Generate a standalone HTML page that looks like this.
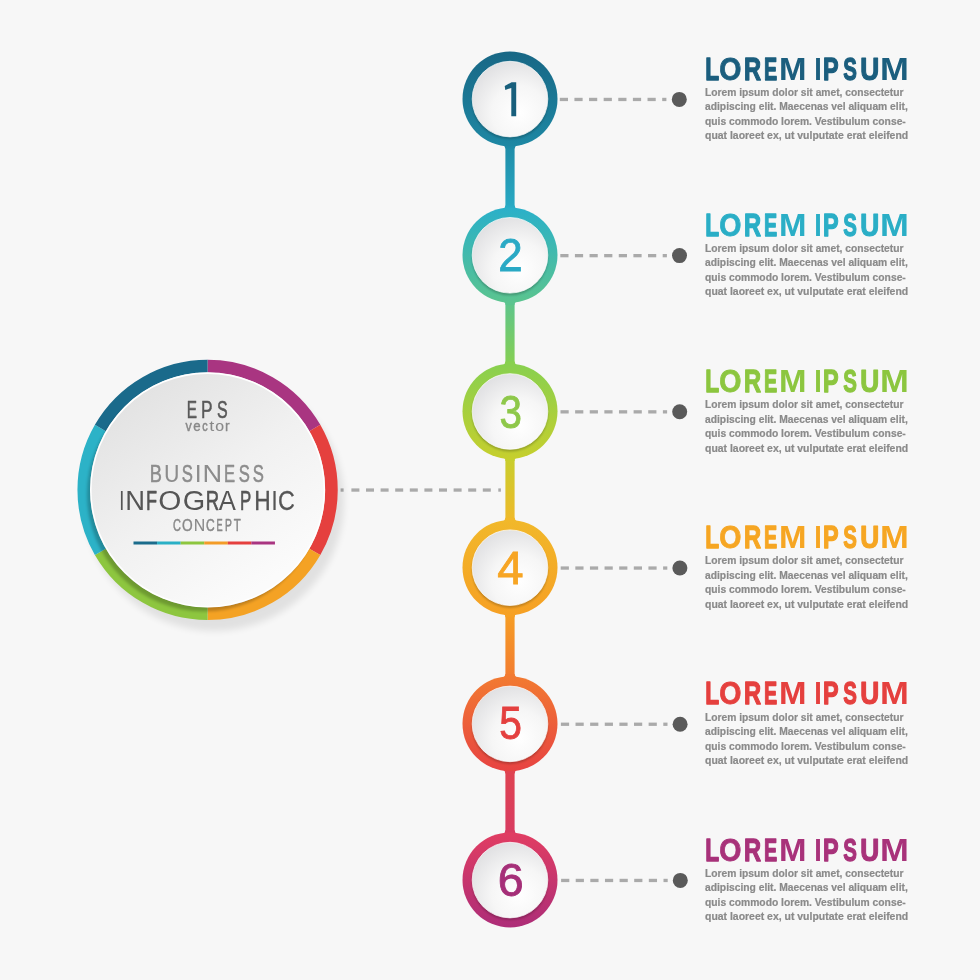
<!DOCTYPE html>
<html><head><meta charset="utf-8"><style>
html,body{margin:0;padding:0;background:#f7f7f7;}
svg{display:block;}
text{font-family:"Liberation Sans", sans-serif;}
</style></head><body>
<svg width="980" height="980" viewBox="0 0 980 980">
<defs>
<radialGradient id="disc" cx="0.62" cy="0.68" r="0.72">
<stop offset="0" stop-color="#ffffff"/><stop offset="0.5" stop-color="#f6f6f6"/><stop offset="1" stop-color="#e0e0e2"/></radialGradient>
<filter id="ish" x="-20%" y="-20%" width="140%" height="140%"><feGaussianBlur stdDeviation="1.3"/></filter>
<filter id="bshadow" x="-30%" y="-30%" width="160%" height="160%"><feGaussianBlur stdDeviation="3.5"/></filter>
<linearGradient id="lg0" x1="0" y1="142.90" x2="0" y2="211.10" gradientUnits="userSpaceOnUse"><stop offset="0" stop-color="#1f8ba7"/><stop offset="1" stop-color="#29abc5"/></linearGradient>
<linearGradient id="lg1" x1="0" y1="299.10" x2="0" y2="367.30" gradientUnits="userSpaceOnUse"><stop offset="0" stop-color="#5bc48f"/><stop offset="1" stop-color="#88d04f"/></linearGradient>
<linearGradient id="lg2" x1="0" y1="455.30" x2="0" y2="523.50" gradientUnits="userSpaceOnUse"><stop offset="0" stop-color="#c6cf2d"/><stop offset="1" stop-color="#f1b82a"/></linearGradient>
<linearGradient id="lg3" x1="0" y1="611.50" x2="0" y2="679.70" gradientUnits="userSpaceOnUse"><stop offset="0" stop-color="#f6a024"/><stop offset="1" stop-color="#f27a31"/></linearGradient>
<linearGradient id="lg4" x1="0" y1="767.70" x2="0" y2="835.90" gradientUnits="userSpaceOnUse"><stop offset="0" stop-color="#df4350"/><stop offset="1" stop-color="#d83c62"/></linearGradient>
<linearGradient id="rg0" x1="0" y1="51.40" x2="0" y2="146.40" gradientUnits="userSpaceOnUse"><stop offset="0" stop-color="#186785"/><stop offset="1" stop-color="#1e88a4"/></linearGradient>
<linearGradient id="rg1" x1="0" y1="207.60" x2="0" y2="302.60" gradientUnits="userSpaceOnUse"><stop offset="0" stop-color="#2ab0c9"/><stop offset="1" stop-color="#5bc48f"/></linearGradient>
<linearGradient id="rg2" x1="0" y1="363.80" x2="0" y2="458.80" gradientUnits="userSpaceOnUse"><stop offset="0" stop-color="#88d04f"/><stop offset="1" stop-color="#c6cf2d"/></linearGradient>
<linearGradient id="rg3" x1="0" y1="520.00" x2="0" y2="615.00" gradientUnits="userSpaceOnUse"><stop offset="0" stop-color="#f1b82a"/><stop offset="1" stop-color="#f6a024"/></linearGradient>
<linearGradient id="rg4" x1="0" y1="676.20" x2="0" y2="771.20" gradientUnits="userSpaceOnUse"><stop offset="0" stop-color="#f27a31"/><stop offset="1" stop-color="#e74342"/></linearGradient>
<linearGradient id="rg5" x1="0" y1="832.40" x2="0" y2="927.40" gradientUnits="userSpaceOnUse"><stop offset="0" stop-color="#e13d62"/><stop offset="1" stop-color="#ad2d78"/></linearGradient>
<linearGradient id="bdisc" x1="0.2" y1="0.1" x2="0.75" y2="0.9">
<stop offset="0" stop-color="#e3e3e3"/><stop offset="0.5" stop-color="#f1f1f1"/><stop offset="1" stop-color="#fbfbfb"/></linearGradient>
<filter id="bish" x="-20%" y="-20%" width="140%" height="140%"><feGaussianBlur stdDeviation="1.6"/></filter>
</defs>
<rect width="980" height="980" fill="#f7f7f7"/>
<rect x="505.4" y="142.90" width="9.2" height="68.20" fill="url(#lg0)"/>
<path d="M502.2,144.20 Q505.4,146.00 505.4,148.60 L514.6,148.60 Q514.6,146.00 517.8000000000001,144.20 Z" fill="#1f8ba7"/>
<path d="M502.2,209.80 Q505.4,208.00 505.4,205.40 L514.6,205.40 Q514.6,208.00 517.8000000000001,209.80 Z" fill="#29abc5"/>
<rect x="505.4" y="299.10" width="9.2" height="68.20" fill="url(#lg1)"/>
<path d="M502.2,300.40 Q505.4,302.20 505.4,304.80 L514.6,304.80 Q514.6,302.20 517.8000000000001,300.40 Z" fill="#5bc48f"/>
<path d="M502.2,366.00 Q505.4,364.20 505.4,361.60 L514.6,361.60 Q514.6,364.20 517.8000000000001,366.00 Z" fill="#88d04f"/>
<rect x="505.4" y="455.30" width="9.2" height="68.20" fill="url(#lg2)"/>
<path d="M502.2,456.60 Q505.4,458.40 505.4,461.00 L514.6,461.00 Q514.6,458.40 517.8000000000001,456.60 Z" fill="#c6cf2d"/>
<path d="M502.2,522.20 Q505.4,520.40 505.4,517.80 L514.6,517.80 Q514.6,520.40 517.8000000000001,522.20 Z" fill="#f1b82a"/>
<rect x="505.4" y="611.50" width="9.2" height="68.20" fill="url(#lg3)"/>
<path d="M502.2,612.80 Q505.4,614.60 505.4,617.20 L514.6,617.20 Q514.6,614.60 517.8000000000001,612.80 Z" fill="#f6a024"/>
<path d="M502.2,678.40 Q505.4,676.60 505.4,674.00 L514.6,674.00 Q514.6,676.60 517.8000000000001,678.40 Z" fill="#f27a31"/>
<rect x="505.4" y="767.70" width="9.2" height="68.20" fill="url(#lg4)"/>
<path d="M502.2,769.00 Q505.4,770.80 505.4,773.40 L514.6,773.40 Q514.6,770.80 517.8000000000001,769.00 Z" fill="#df4350"/>
<path d="M502.2,834.60 Q505.4,832.80 505.4,830.20 L514.6,830.20 Q514.6,832.80 517.8000000000001,834.60 Z" fill="#d83c62"/>
<rect x="340.6" y="488.4" width="3" height="3.3" fill="#aaaaaa"/>
<rect x="351.40" y="488.4" width="8" height="3.3" fill="#aaaaaa"/>
<rect x="366.00" y="488.4" width="8" height="3.3" fill="#aaaaaa"/>
<rect x="380.60" y="488.4" width="8" height="3.3" fill="#aaaaaa"/>
<rect x="395.20" y="488.4" width="8" height="3.3" fill="#aaaaaa"/>
<rect x="409.80" y="488.4" width="8" height="3.3" fill="#aaaaaa"/>
<rect x="424.40" y="488.4" width="8" height="3.3" fill="#aaaaaa"/>
<rect x="439.00" y="488.4" width="8" height="3.3" fill="#aaaaaa"/>
<rect x="453.60" y="488.4" width="8" height="3.3" fill="#aaaaaa"/>
<rect x="468.20" y="488.4" width="8" height="3.3" fill="#aaaaaa"/>
<rect x="482.80" y="488.4" width="8" height="3.3" fill="#aaaaaa"/>
<rect x="498.3" y="488.4" width="2.6" height="3.3" fill="#aaaaaa"/>
<circle cx="510" cy="98.90" r="47.5" fill="url(#rg0)"/>
<circle cx="510" cy="101.10" r="38.0" fill="#000" opacity="0.22" filter="url(#ish)"/>
<circle cx="510" cy="99.10" r="37.8" fill="url(#disc)" stroke="#ffffff" stroke-opacity="0.9" stroke-width="0.8"/>
<path d="M511.6,82.20 L516.2,82.20 L516.2,116.20 L511.3,116.20 L511.3,87.90 L505.3,90.00 L504.7,86.00 Z" fill="#185f7c"/>
<rect x="559.80" y="97.80" width="8.2" height="3.3" fill="#aaaaaa"/>
<rect x="574.42" y="97.80" width="8.2" height="3.3" fill="#aaaaaa"/>
<rect x="589.04" y="97.80" width="8.2" height="3.3" fill="#aaaaaa"/>
<rect x="603.66" y="97.80" width="8.2" height="3.3" fill="#aaaaaa"/>
<rect x="618.28" y="97.80" width="8.2" height="3.3" fill="#aaaaaa"/>
<rect x="632.90" y="97.80" width="8.2" height="3.3" fill="#aaaaaa"/>
<rect x="647.52" y="97.80" width="8.2" height="3.3" fill="#aaaaaa"/>
<rect x="662.20" y="97.80" width="4.2" height="3.3" fill="#aaaaaa"/>
<circle cx="679.30" cy="99.40" r="7.5" fill="#5a5a5a"/>
<circle cx="510" cy="255.10" r="47.5" fill="url(#rg1)"/>
<circle cx="510" cy="257.30" r="38.0" fill="#000" opacity="0.22" filter="url(#ish)"/>
<circle cx="510" cy="255.30" r="37.8" fill="url(#disc)" stroke="#ffffff" stroke-opacity="0.9" stroke-width="0.8"/>
<rect x="560.30" y="254.00" width="8.2" height="3.3" fill="#aaaaaa"/>
<rect x="574.92" y="254.00" width="8.2" height="3.3" fill="#aaaaaa"/>
<rect x="589.54" y="254.00" width="8.2" height="3.3" fill="#aaaaaa"/>
<rect x="604.16" y="254.00" width="8.2" height="3.3" fill="#aaaaaa"/>
<rect x="618.78" y="254.00" width="8.2" height="3.3" fill="#aaaaaa"/>
<rect x="633.40" y="254.00" width="8.2" height="3.3" fill="#aaaaaa"/>
<rect x="648.02" y="254.00" width="8.2" height="3.3" fill="#aaaaaa"/>
<rect x="662.70" y="254.00" width="4.2" height="3.3" fill="#aaaaaa"/>
<circle cx="679.50" cy="255.60" r="7.5" fill="#5a5a5a"/>
<circle cx="510" cy="411.30" r="47.5" fill="url(#rg2)"/>
<circle cx="510" cy="413.50" r="38.0" fill="#000" opacity="0.22" filter="url(#ish)"/>
<circle cx="510" cy="411.50" r="37.8" fill="url(#disc)" stroke="#ffffff" stroke-opacity="0.9" stroke-width="0.8"/>
<rect x="560.50" y="410.20" width="8.2" height="3.3" fill="#aaaaaa"/>
<rect x="575.12" y="410.20" width="8.2" height="3.3" fill="#aaaaaa"/>
<rect x="589.74" y="410.20" width="8.2" height="3.3" fill="#aaaaaa"/>
<rect x="604.36" y="410.20" width="8.2" height="3.3" fill="#aaaaaa"/>
<rect x="618.98" y="410.20" width="8.2" height="3.3" fill="#aaaaaa"/>
<rect x="633.60" y="410.20" width="8.2" height="3.3" fill="#aaaaaa"/>
<rect x="648.22" y="410.20" width="8.2" height="3.3" fill="#aaaaaa"/>
<rect x="662.90" y="410.20" width="4.2" height="3.3" fill="#aaaaaa"/>
<circle cx="679.70" cy="411.80" r="7.5" fill="#5a5a5a"/>
<circle cx="510" cy="567.50" r="47.5" fill="url(#rg3)"/>
<circle cx="510" cy="569.70" r="38.0" fill="#000" opacity="0.22" filter="url(#ish)"/>
<circle cx="510" cy="567.70" r="37.8" fill="url(#disc)" stroke="#ffffff" stroke-opacity="0.9" stroke-width="0.8"/>
<rect x="560.70" y="566.40" width="8.2" height="3.3" fill="#aaaaaa"/>
<rect x="575.32" y="566.40" width="8.2" height="3.3" fill="#aaaaaa"/>
<rect x="589.94" y="566.40" width="8.2" height="3.3" fill="#aaaaaa"/>
<rect x="604.56" y="566.40" width="8.2" height="3.3" fill="#aaaaaa"/>
<rect x="619.18" y="566.40" width="8.2" height="3.3" fill="#aaaaaa"/>
<rect x="633.80" y="566.40" width="8.2" height="3.3" fill="#aaaaaa"/>
<rect x="648.42" y="566.40" width="8.2" height="3.3" fill="#aaaaaa"/>
<rect x="663.10" y="566.40" width="4.2" height="3.3" fill="#aaaaaa"/>
<circle cx="679.90" cy="568.00" r="7.5" fill="#5a5a5a"/>
<circle cx="510" cy="723.70" r="47.5" fill="url(#rg4)"/>
<circle cx="510" cy="725.90" r="38.0" fill="#000" opacity="0.22" filter="url(#ish)"/>
<circle cx="510" cy="723.90" r="37.8" fill="url(#disc)" stroke="#ffffff" stroke-opacity="0.9" stroke-width="0.8"/>
<rect x="560.90" y="722.60" width="8.2" height="3.3" fill="#aaaaaa"/>
<rect x="575.52" y="722.60" width="8.2" height="3.3" fill="#aaaaaa"/>
<rect x="590.14" y="722.60" width="8.2" height="3.3" fill="#aaaaaa"/>
<rect x="604.76" y="722.60" width="8.2" height="3.3" fill="#aaaaaa"/>
<rect x="619.38" y="722.60" width="8.2" height="3.3" fill="#aaaaaa"/>
<rect x="634.00" y="722.60" width="8.2" height="3.3" fill="#aaaaaa"/>
<rect x="648.62" y="722.60" width="8.2" height="3.3" fill="#aaaaaa"/>
<rect x="663.30" y="722.60" width="4.2" height="3.3" fill="#aaaaaa"/>
<circle cx="680.10" cy="724.20" r="7.5" fill="#5a5a5a"/>
<circle cx="510" cy="879.90" r="47.5" fill="url(#rg5)"/>
<circle cx="510" cy="882.10" r="38.0" fill="#000" opacity="0.22" filter="url(#ish)"/>
<circle cx="510" cy="880.10" r="37.8" fill="url(#disc)" stroke="#ffffff" stroke-opacity="0.9" stroke-width="0.8"/>
<rect x="561.10" y="878.80" width="8.2" height="3.3" fill="#aaaaaa"/>
<rect x="575.72" y="878.80" width="8.2" height="3.3" fill="#aaaaaa"/>
<rect x="590.34" y="878.80" width="8.2" height="3.3" fill="#aaaaaa"/>
<rect x="604.96" y="878.80" width="8.2" height="3.3" fill="#aaaaaa"/>
<rect x="619.58" y="878.80" width="8.2" height="3.3" fill="#aaaaaa"/>
<rect x="634.20" y="878.80" width="8.2" height="3.3" fill="#aaaaaa"/>
<rect x="648.82" y="878.80" width="8.2" height="3.3" fill="#aaaaaa"/>
<rect x="663.50" y="878.80" width="4.2" height="3.3" fill="#aaaaaa"/>
<circle cx="680.30" cy="880.40" r="7.5" fill="#5a5a5a"/>
<circle cx="214.1" cy="500.9" r="130" fill="#000" opacity="0.085" filter="url(#bshadow)"/>
<path d="M207.60,366.10 A123.8,123.8 0 0 1 314.81,428.00" fill="none" stroke="#a93581" stroke-width="12.7"/>
<path d="M314.81,428.00 A123.8,123.8 0 0 1 314.81,551.80" fill="none" stroke="#e5403e" stroke-width="12.7"/>
<path d="M314.81,551.80 A123.8,123.8 0 0 1 207.60,613.70" fill="none" stroke="#f4a224" stroke-width="12.7"/>
<path d="M207.60,613.70 A123.8,123.8 0 0 1 100.39,551.80" fill="none" stroke="#8dc63f" stroke-width="12.7"/>
<path d="M100.39,551.80 A123.8,123.8 0 0 1 100.39,428.00" fill="none" stroke="#2cb2c7" stroke-width="12.7"/>
<path d="M100.39,428.00 A123.8,123.8 0 0 1 207.60,366.10" fill="none" stroke="#1a6a8b" stroke-width="12.7"/>
<circle cx="204.1" cy="494.4" r="117" fill="#000" opacity="0.22" filter="url(#bish)"/>
<circle cx="207.6" cy="489.9" r="117.6" fill="#ffffff"/>
<circle cx="207.6" cy="489.9" r="116.0" fill="url(#bdisc)"/>
<rect x="133.50" y="541.5" width="23.6" height="3" fill="#1b6c8c"/>
<rect x="157.07" y="541.5" width="23.6" height="3" fill="#2ab0c6"/>
<rect x="180.64" y="541.5" width="23.6" height="3" fill="#8dc63f"/>
<rect x="204.21" y="541.5" width="23.6" height="3" fill="#f39c28"/>
<rect x="227.78" y="541.5" width="23.6" height="3" fill="#e5403e"/>
<rect x="251.35" y="541.5" width="23.6" height="3" fill="#a93581"/>
<g opacity="0.999">
<text transform="translate(705.25,79.50) scale(0.726,1)" font-family="Liberation Sans" font-weight="bold" font-size="31.3" fill="#1b5e7e" stroke="#1b5e7e" stroke-width="1.30" stroke-linejoin="round">L</text>
<text transform="translate(719.28,79.50) scale(0.911,1)" font-family="Liberation Sans" font-weight="bold" font-size="31.3" fill="#1b5e7e" stroke="#1b5e7e" stroke-width="0.76" stroke-linejoin="round">O</text>
<text transform="translate(743.91,79.50) scale(0.756,1)" font-family="Liberation Sans" font-weight="bold" font-size="31.3" fill="#1b5e7e" stroke="#1b5e7e" stroke-width="1.30" stroke-linejoin="round">R</text>
<text transform="translate(764.09,79.50) scale(0.631,1)" font-family="Liberation Sans" font-weight="bold" font-size="31.3" fill="#1b5e7e" stroke="#1b5e7e" stroke-width="1.30" stroke-linejoin="round">E</text>
<text transform="translate(779.02,79.50) scale(1.053,1)" font-family="Liberation Sans" font-weight="bold" font-size="31.3" fill="#1b5e7e" stroke="#1b5e7e" stroke-width="0.05" stroke-linejoin="round">M</text>
<text transform="translate(814.29,79.50) scale(0.865,1)" font-family="Liberation Sans" font-weight="bold" font-size="31.3" fill="#1b5e7e">I</text>
<text transform="translate(823.12,79.50) scale(0.747,1)" font-family="Liberation Sans" font-weight="bold" font-size="31.3" fill="#1b5e7e" stroke="#1b5e7e" stroke-width="1.30" stroke-linejoin="round">P</text>
<text transform="translate(843.14,79.50) scale(0.653,1)" font-family="Liberation Sans" font-weight="bold" font-size="31.3" fill="#1b5e7e" stroke="#1b5e7e" stroke-width="1.30" stroke-linejoin="round">S</text>
<text transform="translate(860.23,79.50) scale(0.839,1)" font-family="Liberation Sans" font-weight="bold" font-size="31.3" fill="#1b5e7e" stroke="#1b5e7e" stroke-width="1.22" stroke-linejoin="round">U</text>
<text transform="translate(880.08,79.50) scale(1.106,1)" font-family="Liberation Sans" font-weight="bold" font-size="31.3" fill="#1b5e7e">M</text>
<text x="705" y="95.80" font-family="Liberation Sans" font-weight="bold" font-size="10.2" fill="#8a8a8a" stroke="#8a8a8a" stroke-width="0.2" textLength="198.5" lengthAdjust="spacingAndGlyphs">Lorem ipsum dolor sit amet, consectetur</text>
<text x="705" y="110.25" font-family="Liberation Sans" font-weight="bold" font-size="10.2" fill="#8a8a8a" stroke="#8a8a8a" stroke-width="0.2" textLength="202.8" lengthAdjust="spacingAndGlyphs">adipiscing elit. Maecenas vel aliquam elit,</text>
<text x="705" y="124.70" font-family="Liberation Sans" font-weight="bold" font-size="10.2" fill="#8a8a8a" stroke="#8a8a8a" stroke-width="0.2" textLength="200.8" lengthAdjust="spacingAndGlyphs">quis commodo lorem. Vestibulum conse-</text>
<text x="705" y="139.15" font-family="Liberation Sans" font-weight="bold" font-size="10.2" fill="#8a8a8a" stroke="#8a8a8a" stroke-width="0.2" textLength="203.2" lengthAdjust="spacingAndGlyphs">quat laoreet ex, ut vulputate erat eleifend</text>
<text transform="translate(498.14,271.35) scale(0.878,0.919)" font-family="Liberation Sans" font-size="50" fill="#2aa9c5" stroke="#2aa9c5" stroke-width="0.9">2</text>
<text transform="translate(705.25,235.70) scale(0.726,1)" font-family="Liberation Sans" font-weight="bold" font-size="31.3" fill="#2aaec6" stroke="#2aaec6" stroke-width="1.30" stroke-linejoin="round">L</text>
<text transform="translate(719.28,235.70) scale(0.911,1)" font-family="Liberation Sans" font-weight="bold" font-size="31.3" fill="#2aaec6" stroke="#2aaec6" stroke-width="0.76" stroke-linejoin="round">O</text>
<text transform="translate(743.91,235.70) scale(0.756,1)" font-family="Liberation Sans" font-weight="bold" font-size="31.3" fill="#2aaec6" stroke="#2aaec6" stroke-width="1.30" stroke-linejoin="round">R</text>
<text transform="translate(764.09,235.70) scale(0.631,1)" font-family="Liberation Sans" font-weight="bold" font-size="31.3" fill="#2aaec6" stroke="#2aaec6" stroke-width="1.30" stroke-linejoin="round">E</text>
<text transform="translate(779.02,235.70) scale(1.053,1)" font-family="Liberation Sans" font-weight="bold" font-size="31.3" fill="#2aaec6" stroke="#2aaec6" stroke-width="0.05" stroke-linejoin="round">M</text>
<text transform="translate(814.29,235.70) scale(0.865,1)" font-family="Liberation Sans" font-weight="bold" font-size="31.3" fill="#2aaec6">I</text>
<text transform="translate(823.12,235.70) scale(0.747,1)" font-family="Liberation Sans" font-weight="bold" font-size="31.3" fill="#2aaec6" stroke="#2aaec6" stroke-width="1.30" stroke-linejoin="round">P</text>
<text transform="translate(843.14,235.70) scale(0.653,1)" font-family="Liberation Sans" font-weight="bold" font-size="31.3" fill="#2aaec6" stroke="#2aaec6" stroke-width="1.30" stroke-linejoin="round">S</text>
<text transform="translate(860.23,235.70) scale(0.839,1)" font-family="Liberation Sans" font-weight="bold" font-size="31.3" fill="#2aaec6" stroke="#2aaec6" stroke-width="1.22" stroke-linejoin="round">U</text>
<text transform="translate(880.08,235.70) scale(1.106,1)" font-family="Liberation Sans" font-weight="bold" font-size="31.3" fill="#2aaec6">M</text>
<text x="705" y="252.00" font-family="Liberation Sans" font-weight="bold" font-size="10.2" fill="#8a8a8a" stroke="#8a8a8a" stroke-width="0.2" textLength="198.5" lengthAdjust="spacingAndGlyphs">Lorem ipsum dolor sit amet, consectetur</text>
<text x="705" y="266.45" font-family="Liberation Sans" font-weight="bold" font-size="10.2" fill="#8a8a8a" stroke="#8a8a8a" stroke-width="0.2" textLength="202.8" lengthAdjust="spacingAndGlyphs">adipiscing elit. Maecenas vel aliquam elit,</text>
<text x="705" y="280.90" font-family="Liberation Sans" font-weight="bold" font-size="10.2" fill="#8a8a8a" stroke="#8a8a8a" stroke-width="0.2" textLength="200.8" lengthAdjust="spacingAndGlyphs">quis commodo lorem. Vestibulum conse-</text>
<text x="705" y="295.35" font-family="Liberation Sans" font-weight="bold" font-size="10.2" fill="#8a8a8a" stroke="#8a8a8a" stroke-width="0.2" textLength="203.2" lengthAdjust="spacingAndGlyphs">quat laoreet ex, ut vulputate erat eleifend</text>
<text transform="translate(499.52,427.59) scale(0.806,0.938)" font-family="Liberation Sans" font-size="50" fill="#8ec84a" stroke="#8ec84a" stroke-width="0.9">3</text>
<text transform="translate(705.25,391.90) scale(0.726,1)" font-family="Liberation Sans" font-weight="bold" font-size="31.3" fill="#8cc63f" stroke="#8cc63f" stroke-width="1.30" stroke-linejoin="round">L</text>
<text transform="translate(719.28,391.90) scale(0.911,1)" font-family="Liberation Sans" font-weight="bold" font-size="31.3" fill="#8cc63f" stroke="#8cc63f" stroke-width="0.76" stroke-linejoin="round">O</text>
<text transform="translate(743.91,391.90) scale(0.756,1)" font-family="Liberation Sans" font-weight="bold" font-size="31.3" fill="#8cc63f" stroke="#8cc63f" stroke-width="1.30" stroke-linejoin="round">R</text>
<text transform="translate(764.09,391.90) scale(0.631,1)" font-family="Liberation Sans" font-weight="bold" font-size="31.3" fill="#8cc63f" stroke="#8cc63f" stroke-width="1.30" stroke-linejoin="round">E</text>
<text transform="translate(779.02,391.90) scale(1.053,1)" font-family="Liberation Sans" font-weight="bold" font-size="31.3" fill="#8cc63f" stroke="#8cc63f" stroke-width="0.05" stroke-linejoin="round">M</text>
<text transform="translate(814.29,391.90) scale(0.865,1)" font-family="Liberation Sans" font-weight="bold" font-size="31.3" fill="#8cc63f">I</text>
<text transform="translate(823.12,391.90) scale(0.747,1)" font-family="Liberation Sans" font-weight="bold" font-size="31.3" fill="#8cc63f" stroke="#8cc63f" stroke-width="1.30" stroke-linejoin="round">P</text>
<text transform="translate(843.14,391.90) scale(0.653,1)" font-family="Liberation Sans" font-weight="bold" font-size="31.3" fill="#8cc63f" stroke="#8cc63f" stroke-width="1.30" stroke-linejoin="round">S</text>
<text transform="translate(860.23,391.90) scale(0.839,1)" font-family="Liberation Sans" font-weight="bold" font-size="31.3" fill="#8cc63f" stroke="#8cc63f" stroke-width="1.22" stroke-linejoin="round">U</text>
<text transform="translate(880.08,391.90) scale(1.106,1)" font-family="Liberation Sans" font-weight="bold" font-size="31.3" fill="#8cc63f">M</text>
<text x="705" y="408.20" font-family="Liberation Sans" font-weight="bold" font-size="10.2" fill="#8a8a8a" stroke="#8a8a8a" stroke-width="0.2" textLength="198.5" lengthAdjust="spacingAndGlyphs">Lorem ipsum dolor sit amet, consectetur</text>
<text x="705" y="422.65" font-family="Liberation Sans" font-weight="bold" font-size="10.2" fill="#8a8a8a" stroke="#8a8a8a" stroke-width="0.2" textLength="202.8" lengthAdjust="spacingAndGlyphs">adipiscing elit. Maecenas vel aliquam elit,</text>
<text x="705" y="437.10" font-family="Liberation Sans" font-weight="bold" font-size="10.2" fill="#8a8a8a" stroke="#8a8a8a" stroke-width="0.2" textLength="200.8" lengthAdjust="spacingAndGlyphs">quis commodo lorem. Vestibulum conse-</text>
<text x="705" y="451.55" font-family="Liberation Sans" font-weight="bold" font-size="10.2" fill="#8a8a8a" stroke="#8a8a8a" stroke-width="0.2" textLength="203.2" lengthAdjust="spacingAndGlyphs">quat laoreet ex, ut vulputate erat eleifend</text>
<text transform="translate(497.27,583.85) scale(0.945,0.942)" font-family="Liberation Sans" font-size="50" fill="#f7a524" stroke="#f7a524" stroke-width="0.9">4</text>
<text transform="translate(705.25,548.10) scale(0.726,1)" font-family="Liberation Sans" font-weight="bold" font-size="31.3" fill="#f6a623" stroke="#f6a623" stroke-width="1.30" stroke-linejoin="round">L</text>
<text transform="translate(719.28,548.10) scale(0.911,1)" font-family="Liberation Sans" font-weight="bold" font-size="31.3" fill="#f6a623" stroke="#f6a623" stroke-width="0.76" stroke-linejoin="round">O</text>
<text transform="translate(743.91,548.10) scale(0.756,1)" font-family="Liberation Sans" font-weight="bold" font-size="31.3" fill="#f6a623" stroke="#f6a623" stroke-width="1.30" stroke-linejoin="round">R</text>
<text transform="translate(764.09,548.10) scale(0.631,1)" font-family="Liberation Sans" font-weight="bold" font-size="31.3" fill="#f6a623" stroke="#f6a623" stroke-width="1.30" stroke-linejoin="round">E</text>
<text transform="translate(779.02,548.10) scale(1.053,1)" font-family="Liberation Sans" font-weight="bold" font-size="31.3" fill="#f6a623" stroke="#f6a623" stroke-width="0.05" stroke-linejoin="round">M</text>
<text transform="translate(814.29,548.10) scale(0.865,1)" font-family="Liberation Sans" font-weight="bold" font-size="31.3" fill="#f6a623">I</text>
<text transform="translate(823.12,548.10) scale(0.747,1)" font-family="Liberation Sans" font-weight="bold" font-size="31.3" fill="#f6a623" stroke="#f6a623" stroke-width="1.30" stroke-linejoin="round">P</text>
<text transform="translate(843.14,548.10) scale(0.653,1)" font-family="Liberation Sans" font-weight="bold" font-size="31.3" fill="#f6a623" stroke="#f6a623" stroke-width="1.30" stroke-linejoin="round">S</text>
<text transform="translate(860.23,548.10) scale(0.839,1)" font-family="Liberation Sans" font-weight="bold" font-size="31.3" fill="#f6a623" stroke="#f6a623" stroke-width="1.22" stroke-linejoin="round">U</text>
<text transform="translate(880.08,548.10) scale(1.106,1)" font-family="Liberation Sans" font-weight="bold" font-size="31.3" fill="#f6a623">M</text>
<text x="705" y="564.40" font-family="Liberation Sans" font-weight="bold" font-size="10.2" fill="#8a8a8a" stroke="#8a8a8a" stroke-width="0.2" textLength="198.5" lengthAdjust="spacingAndGlyphs">Lorem ipsum dolor sit amet, consectetur</text>
<text x="705" y="578.85" font-family="Liberation Sans" font-weight="bold" font-size="10.2" fill="#8a8a8a" stroke="#8a8a8a" stroke-width="0.2" textLength="202.8" lengthAdjust="spacingAndGlyphs">adipiscing elit. Maecenas vel aliquam elit,</text>
<text x="705" y="593.30" font-family="Liberation Sans" font-weight="bold" font-size="10.2" fill="#8a8a8a" stroke="#8a8a8a" stroke-width="0.2" textLength="200.8" lengthAdjust="spacingAndGlyphs">quis commodo lorem. Vestibulum conse-</text>
<text x="705" y="607.75" font-family="Liberation Sans" font-weight="bold" font-size="10.2" fill="#8a8a8a" stroke="#8a8a8a" stroke-width="0.2" textLength="203.2" lengthAdjust="spacingAndGlyphs">quat laoreet ex, ut vulputate erat eleifend</text>
<text transform="translate(499.22,739.39) scale(0.814,0.940)" font-family="Liberation Sans" font-size="50" fill="#e4403f" stroke="#e4403f" stroke-width="0.9">5</text>
<text transform="translate(705.25,704.30) scale(0.726,1)" font-family="Liberation Sans" font-weight="bold" font-size="31.3" fill="#e5403e" stroke="#e5403e" stroke-width="1.30" stroke-linejoin="round">L</text>
<text transform="translate(719.28,704.30) scale(0.911,1)" font-family="Liberation Sans" font-weight="bold" font-size="31.3" fill="#e5403e" stroke="#e5403e" stroke-width="0.76" stroke-linejoin="round">O</text>
<text transform="translate(743.91,704.30) scale(0.756,1)" font-family="Liberation Sans" font-weight="bold" font-size="31.3" fill="#e5403e" stroke="#e5403e" stroke-width="1.30" stroke-linejoin="round">R</text>
<text transform="translate(764.09,704.30) scale(0.631,1)" font-family="Liberation Sans" font-weight="bold" font-size="31.3" fill="#e5403e" stroke="#e5403e" stroke-width="1.30" stroke-linejoin="round">E</text>
<text transform="translate(779.02,704.30) scale(1.053,1)" font-family="Liberation Sans" font-weight="bold" font-size="31.3" fill="#e5403e" stroke="#e5403e" stroke-width="0.05" stroke-linejoin="round">M</text>
<text transform="translate(814.29,704.30) scale(0.865,1)" font-family="Liberation Sans" font-weight="bold" font-size="31.3" fill="#e5403e">I</text>
<text transform="translate(823.12,704.30) scale(0.747,1)" font-family="Liberation Sans" font-weight="bold" font-size="31.3" fill="#e5403e" stroke="#e5403e" stroke-width="1.30" stroke-linejoin="round">P</text>
<text transform="translate(843.14,704.30) scale(0.653,1)" font-family="Liberation Sans" font-weight="bold" font-size="31.3" fill="#e5403e" stroke="#e5403e" stroke-width="1.30" stroke-linejoin="round">S</text>
<text transform="translate(860.23,704.30) scale(0.839,1)" font-family="Liberation Sans" font-weight="bold" font-size="31.3" fill="#e5403e" stroke="#e5403e" stroke-width="1.22" stroke-linejoin="round">U</text>
<text transform="translate(880.08,704.30) scale(1.106,1)" font-family="Liberation Sans" font-weight="bold" font-size="31.3" fill="#e5403e">M</text>
<text x="705" y="720.60" font-family="Liberation Sans" font-weight="bold" font-size="10.2" fill="#8a8a8a" stroke="#8a8a8a" stroke-width="0.2" textLength="198.5" lengthAdjust="spacingAndGlyphs">Lorem ipsum dolor sit amet, consectetur</text>
<text x="705" y="735.05" font-family="Liberation Sans" font-weight="bold" font-size="10.2" fill="#8a8a8a" stroke="#8a8a8a" stroke-width="0.2" textLength="202.8" lengthAdjust="spacingAndGlyphs">adipiscing elit. Maecenas vel aliquam elit,</text>
<text x="705" y="749.50" font-family="Liberation Sans" font-weight="bold" font-size="10.2" fill="#8a8a8a" stroke="#8a8a8a" stroke-width="0.2" textLength="200.8" lengthAdjust="spacingAndGlyphs">quis commodo lorem. Vestibulum conse-</text>
<text x="705" y="763.95" font-family="Liberation Sans" font-weight="bold" font-size="10.2" fill="#8a8a8a" stroke="#8a8a8a" stroke-width="0.2" textLength="203.2" lengthAdjust="spacingAndGlyphs">quat laoreet ex, ut vulputate erat eleifend</text>
<text transform="translate(497.68,896.19) scale(0.932,0.941)" font-family="Liberation Sans" font-size="50" fill="#a52f78" stroke="#a52f78" stroke-width="0.9">6</text>
<text transform="translate(705.25,860.50) scale(0.726,1)" font-family="Liberation Sans" font-weight="bold" font-size="31.3" fill="#a8327a" stroke="#a8327a" stroke-width="1.30" stroke-linejoin="round">L</text>
<text transform="translate(719.28,860.50) scale(0.911,1)" font-family="Liberation Sans" font-weight="bold" font-size="31.3" fill="#a8327a" stroke="#a8327a" stroke-width="0.76" stroke-linejoin="round">O</text>
<text transform="translate(743.91,860.50) scale(0.756,1)" font-family="Liberation Sans" font-weight="bold" font-size="31.3" fill="#a8327a" stroke="#a8327a" stroke-width="1.30" stroke-linejoin="round">R</text>
<text transform="translate(764.09,860.50) scale(0.631,1)" font-family="Liberation Sans" font-weight="bold" font-size="31.3" fill="#a8327a" stroke="#a8327a" stroke-width="1.30" stroke-linejoin="round">E</text>
<text transform="translate(779.02,860.50) scale(1.053,1)" font-family="Liberation Sans" font-weight="bold" font-size="31.3" fill="#a8327a" stroke="#a8327a" stroke-width="0.05" stroke-linejoin="round">M</text>
<text transform="translate(814.29,860.50) scale(0.865,1)" font-family="Liberation Sans" font-weight="bold" font-size="31.3" fill="#a8327a">I</text>
<text transform="translate(823.12,860.50) scale(0.747,1)" font-family="Liberation Sans" font-weight="bold" font-size="31.3" fill="#a8327a" stroke="#a8327a" stroke-width="1.30" stroke-linejoin="round">P</text>
<text transform="translate(843.14,860.50) scale(0.653,1)" font-family="Liberation Sans" font-weight="bold" font-size="31.3" fill="#a8327a" stroke="#a8327a" stroke-width="1.30" stroke-linejoin="round">S</text>
<text transform="translate(860.23,860.50) scale(0.839,1)" font-family="Liberation Sans" font-weight="bold" font-size="31.3" fill="#a8327a" stroke="#a8327a" stroke-width="1.22" stroke-linejoin="round">U</text>
<text transform="translate(880.08,860.50) scale(1.106,1)" font-family="Liberation Sans" font-weight="bold" font-size="31.3" fill="#a8327a">M</text>
<text x="705" y="876.80" font-family="Liberation Sans" font-weight="bold" font-size="10.2" fill="#8a8a8a" stroke="#8a8a8a" stroke-width="0.2" textLength="198.5" lengthAdjust="spacingAndGlyphs">Lorem ipsum dolor sit amet, consectetur</text>
<text x="705" y="891.25" font-family="Liberation Sans" font-weight="bold" font-size="10.2" fill="#8a8a8a" stroke="#8a8a8a" stroke-width="0.2" textLength="202.8" lengthAdjust="spacingAndGlyphs">adipiscing elit. Maecenas vel aliquam elit,</text>
<text x="705" y="905.70" font-family="Liberation Sans" font-weight="bold" font-size="10.2" fill="#8a8a8a" stroke="#8a8a8a" stroke-width="0.2" textLength="200.8" lengthAdjust="spacingAndGlyphs">quis commodo lorem. Vestibulum conse-</text>
<text x="705" y="920.15" font-family="Liberation Sans" font-weight="bold" font-size="10.2" fill="#8a8a8a" stroke="#8a8a8a" stroke-width="0.2" textLength="203.2" lengthAdjust="spacingAndGlyphs">quat laoreet ex, ut vulputate erat eleifend</text>
<text transform="translate(186.83,417.60) scale(0.629,1)" font-family="Liberation Sans" font-size="24.4" fill="#595959" stroke="#595959" stroke-width="0.60" stroke-linejoin="round">E</text>
<text transform="translate(201.08,417.60) scale(0.709,1)" font-family="Liberation Sans" font-size="24.4" fill="#595959" stroke="#595959" stroke-width="0.55" stroke-linejoin="round">P</text>
<text transform="translate(217.07,417.60) scale(0.655,1)" font-family="Liberation Sans" font-size="24.4" fill="#595959" stroke="#595959" stroke-width="0.60" stroke-linejoin="round">S</text>
<text transform="translate(185.58,430.80) scale(0.874,1)" font-family="Liberation Sans" font-size="14.3" fill="#888888" stroke="#888888" stroke-width="0.50" stroke-linejoin="round">v</text>
<text transform="translate(193.22,430.80) scale(0.929,1)" font-family="Liberation Sans" font-size="14.3" fill="#888888" stroke="#888888" stroke-width="0.39" stroke-linejoin="round">e</text>
<text transform="translate(202.23,430.80) scale(0.765,1)" font-family="Liberation Sans" font-size="14.3" fill="#888888" stroke="#888888" stroke-width="0.50" stroke-linejoin="round">c</text>
<text transform="translate(209.13,430.80) scale(1.260,1)" font-family="Liberation Sans" font-size="14.3" fill="#888888">t</text>
<text transform="translate(215.20,430.80) scale(1.107,1)" font-family="Liberation Sans" font-size="14.3" fill="#888888" stroke="#888888" stroke-width="0.12" stroke-linejoin="round">o</text>
<text transform="translate(224.92,430.80) scale(0.980,1)" font-family="Liberation Sans" font-size="14.3" fill="#888888" stroke="#888888" stroke-width="0.30" stroke-linejoin="round">r</text>
<text transform="translate(149.81,481.80) scale(0.765,1)" font-family="Liberation Sans" font-size="23.8" fill="#8c8c8c" stroke="#8c8c8c" stroke-width="0.53" stroke-linejoin="round">B</text>
<text transform="translate(164.27,481.80) scale(0.876,1)" font-family="Liberation Sans" font-size="23.8" fill="#8c8c8c" stroke="#8c8c8c" stroke-width="0.18" stroke-linejoin="round">U</text>
<text transform="translate(181.85,481.80) scale(0.699,1)" font-family="Liberation Sans" font-size="23.8" fill="#8c8c8c" stroke="#8c8c8c" stroke-width="0.60" stroke-linejoin="round">S</text>
<text transform="translate(194.82,481.80) scale(1.036,1)" font-family="Liberation Sans" font-size="23.8" fill="#8c8c8c">I</text>
<text transform="translate(202.47,481.80) scale(1.143,1)" font-family="Liberation Sans" font-size="23.8" fill="#8c8c8c">N</text>
<text transform="translate(223.95,481.80) scale(0.696,1)" font-family="Liberation Sans" font-size="23.8" fill="#8c8c8c" stroke="#8c8c8c" stroke-width="0.60" stroke-linejoin="round">E</text>
<text transform="translate(238.65,481.80) scale(0.699,1)" font-family="Liberation Sans" font-size="23.8" fill="#8c8c8c" stroke="#8c8c8c" stroke-width="0.60" stroke-linejoin="round">S</text>
<text transform="translate(252.65,481.80) scale(0.699,1)" font-family="Liberation Sans" font-size="23.8" fill="#8c8c8c" stroke="#8c8c8c" stroke-width="0.60" stroke-linejoin="round">S</text>
<text transform="translate(119.32,509.80) scale(0.670,1)" font-family="Liberation Sans" font-size="27.2" fill="#555555">I</text>
<text transform="translate(125.35,509.80) scale(1.007,1)" font-family="Liberation Sans" font-size="27.2" fill="#555555">N</text>
<text transform="translate(146.05,509.80) scale(0.665,1)" font-family="Liberation Sans" font-size="27.2" fill="#555555" stroke="#555555" stroke-width="0.70" stroke-linejoin="round">F</text>
<text transform="translate(158.29,509.80) scale(1.093,1)" font-family="Liberation Sans" font-size="27.2" fill="#555555">O</text>
<text transform="translate(182.64,509.80) scale(1.064,1)" font-family="Liberation Sans" font-size="27.2" fill="#555555">G</text>
<text transform="translate(205.72,509.80) scale(0.682,1)" font-family="Liberation Sans" font-size="27.2" fill="#555555" stroke="#555555" stroke-width="0.70" stroke-linejoin="round">R</text>
<text transform="translate(218.76,509.80) scale(0.942,1)" font-family="Liberation Sans" font-size="27.2" fill="#555555">A</text>
<text transform="translate(240.03,509.80) scale(0.619,1)" font-family="Liberation Sans" font-size="27.2" fill="#555555" stroke="#555555" stroke-width="0.70" stroke-linejoin="round">P</text>
<text transform="translate(254.27,509.80) scale(0.837,1)" font-family="Liberation Sans" font-size="27.2" fill="#555555" stroke="#555555" stroke-width="0.34" stroke-linejoin="round">H</text>
<text transform="translate(271.22,509.80) scale(0.867,1)" font-family="Liberation Sans" font-size="27.2" fill="#555555">I</text>
<text transform="translate(277.93,509.80) scale(0.857,1)" font-family="Liberation Sans" font-size="27.2" fill="#555555" stroke="#555555" stroke-width="0.27" stroke-linejoin="round">C</text>
<text transform="translate(172.92,530.90) scale(0.695,1)" font-family="Liberation Sans" font-size="15.8" fill="#888888" stroke="#888888" stroke-width="0.50" stroke-linejoin="round">C</text>
<text transform="translate(182.11,530.90) scale(0.869,1)" font-family="Liberation Sans" font-size="15.8" fill="#888888" stroke="#888888" stroke-width="0.37" stroke-linejoin="round">O</text>
<text transform="translate(193.86,530.90) scale(1.006,1)" font-family="Liberation Sans" font-size="15.8" fill="#888888" stroke="#888888" stroke-width="0.12" stroke-linejoin="round">N</text>
<text transform="translate(205.98,530.90) scale(0.761,1)" font-family="Liberation Sans" font-size="15.8" fill="#888888" stroke="#888888" stroke-width="0.50" stroke-linejoin="round">C</text>
<text transform="translate(216.49,530.90) scale(0.585,1)" font-family="Liberation Sans" font-size="15.8" fill="#888888" stroke="#888888" stroke-width="0.50" stroke-linejoin="round">E</text>
<text transform="translate(224.92,530.90) scale(0.651,1)" font-family="Liberation Sans" font-size="15.8" fill="#888888" stroke="#888888" stroke-width="0.50" stroke-linejoin="round">P</text>
<text transform="translate(233.72,530.90) scale(0.731,1)" font-family="Liberation Sans" font-size="15.8" fill="#888888" stroke="#888888" stroke-width="0.50" stroke-linejoin="round">T</text>
</g>
</svg>
</body></html>
